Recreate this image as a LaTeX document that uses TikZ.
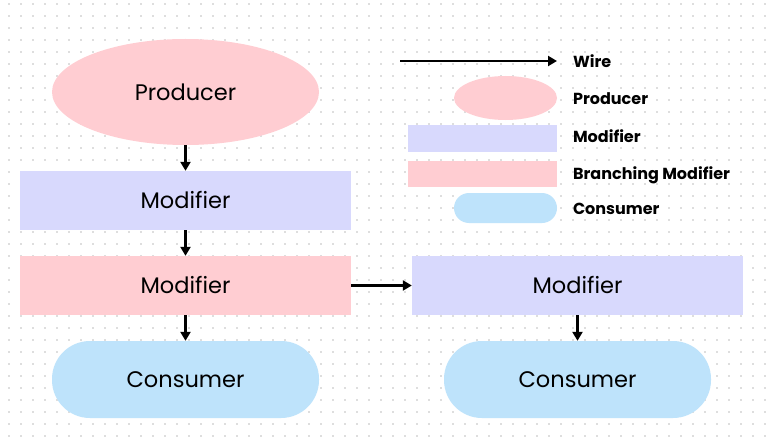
\documentclass[tikz,border=0pt]{standalone}
\usepackage{fontspec}
\setmainfont{Poppins}
\usetikzlibrary{shapes.geometric,arrows.meta}
\definecolor{prodpink}{HTML}{FFCDD2}
\definecolor{modlilac}{HTML}{D8D9FD}
\definecolor{conblue}{HTML}{BEE3FB}
\definecolor{dotgray}{HTML}{BDBDBD}

\begin{document}
\begin{tikzpicture}[x=1pt,y=-1pt,
    wire/.style={-{Triangle[length=9pt,width=10pt]},line width=2.3pt},
    bigtext/.style={font=\fontsize{22.5}{26}\selectfont},
    keytext/.style={anchor=west,font=\bfseries\fontsize{16}{19}\selectfont},
    producer/.style={ellipse,fill=prodpink,inner sep=0pt},
    modifier/.style={rectangle,fill=modlilac,inner sep=0pt},
    branching/.style={rectangle,fill=prodpink,inner sep=0pt},
    consumer/.style={rectangle,fill=conblue,inner sep=0pt}]
  \useasboundingbox (0,0) rectangle (775,441);
  \fill[white] (0,0) rectangle (775,441);
  % dot grid
  \foreach \i in {0,...,64}
    \foreach \j in {0,...,36}
      \fill[dotgray] (9+12*\i,4+12*\j) circle (0.8pt);

  % main flow
  \node[producer,bigtext,minimum width=267pt,minimum height=106pt] (prod) at (185.5,92) {Producer};
  \node[modifier,bigtext,minimum width=331pt,minimum height=59pt] (mod1) at (185.5,200.5) {Modifier};
  \node[branching,bigtext,minimum width=331pt,minimum height=59pt] (branch) at (185.5,285.5) {Modifier};
  \node[consumer,bigtext,rounded corners=38pt,minimum width=267pt,minimum height=77pt] (cons1) at (185.5,379.5) {Consumer};
  \node[modifier,bigtext,minimum width=331pt,minimum height=59pt] (mod2) at (577.5,285.5) {Modifier};
  \node[consumer,bigtext,rounded corners=38pt,minimum width=267pt,minimum height=77pt] (cons2) at (577.5,379.5) {Consumer};

  \draw[wire] (prod) -- (mod1);
  \draw[wire] (mod1) -- (branch);
  \draw[wire] (branch) -- (cons1);
  \draw[wire] (branch) -- (mod2);
  \draw[wire] (mod2) -- (cons2);

  % legend
  \coordinate (wirestart) at (400,61);
  \coordinate (wireend) at (557,61);
  \draw[wire] (wirestart) -- (wireend);
  \node[producer,minimum width=103pt,minimum height=44pt] (keyprod) at (505.5,98) {};
  \node[modifier,minimum width=149pt,minimum height=27pt] (keymod) at (482.5,138.5) {};
  \node[branching,minimum width=149pt,minimum height=26pt] (keybranch) at (482.5,174) {};
  \node[consumer,rounded corners=15pt,minimum width=103pt,minimum height=30pt] (keycons) at (505.5,208) {};

  \node[keytext] (wirelabel) at (569.5,61) {Wire};
  \node[keytext] (prodlabel) at (569.5,99) {Producer};
  \node[keytext] (modlabel) at (569.5,136) {Modifier};
  \node[keytext] (branchlabel) at (569.5,175) {Branching Modifier};
  \node[keytext] (conslabel) at (569.5,209) {Consumer};
\end{tikzpicture}
\end{document}
